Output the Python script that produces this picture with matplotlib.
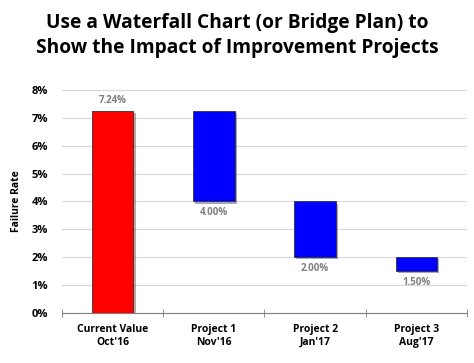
import matplotlib.pyplot as plt
import matplotlib.patheffects as pe
from matplotlib.ticker import FixedLocator, PercentFormatter

plt.rcParams['font.family'] = ['Open Sans', 'DejaVu Sans']

# data
categories = ["Current Value\nOct'16", "Project 1\nNov'16", "Project 2\nJan'17", "Project 3\nAug'17"]
tops = [7.24, 7.24, 4.00, 2.00]
bottoms = [0.0, 4.00, 2.00, 1.50]
labels = ["7.24%", "4.00%", "2.00%", "1.50%"]
colors = ["#ff0000", "#0000ff", "#0000ff", "#0000ff"]

fig = plt.figure(figsize=(4.74, 3.63), dpi=100)
ax = fig.add_axes([0.131, 0.138, 0.854, 0.614])

x = list(range(len(categories)))
heights = [t - b for t, b in zip(tops, bottoms)]
shadow = [pe.SimplePatchShadow(offset=(1.5, -1.5), alpha=0.35), pe.Normal()]
bars = ax.bar(x, heights, bottom=bottoms, width=0.41, color=colors,
              edgecolor="#333333", linewidth=0.6, zorder=3)
for b in bars:
    b.set_path_effects(shadow)

# value labels: first above the bar, the rest below
for i, lab in enumerate(labels):
    if i == 0:
        ax.text(x[i], tops[i] + 0.18, lab, ha='center', va='bottom',
                fontsize=7, fontweight='bold', color='#7f7f7f')
    else:
        ax.text(x[i], bottoms[i] - 0.2, lab, ha='center', va='top',
                fontsize=7, fontweight='bold', color='#7f7f7f')

ax.set_xlim(-0.5, 3.5)
ax.set_ylim(0, 8)
ax.set_yticks(range(0, 9))
ax.yaxis.set_major_formatter(PercentFormatter(decimals=0))
ax.grid(axis='y', color='#d9d9d9', linewidth=0.8, zorder=0)

ax.set_xticks(x)
ax.set_xticklabels(categories, fontsize=7.5, fontweight='bold')
ax.xaxis.set_minor_locator(FixedLocator([-0.5, 0.5, 1.5, 2.5, 3.5]))
ax.tick_params(axis='x', which='major', length=0, pad=8)
ax.tick_params(axis='x', which='minor', length=6, direction='inout', color='#7f7f7f')
ax.tick_params(axis='y', length=0, labelsize=8, pad=10)
for t in ax.get_yticklabels():
    t.set_fontweight('bold')

for s in ['top', 'right', 'left']:
    ax.spines[s].set_visible(False)
ax.spines['bottom'].set_color('#7f7f7f')

ax.set_ylabel("Failure Rate", fontsize=7.5, fontweight='bold', labelpad=7)

fig.text(0.5, 0.963, "Use a Waterfall Chart (or Bridge Plan) to\nShow the Impact of Improvement Projects",
         ha='center', va='top', fontsize=13.8, fontweight='bold', linespacing=1.3)

fig.savefig("out.png", dpi=100)
